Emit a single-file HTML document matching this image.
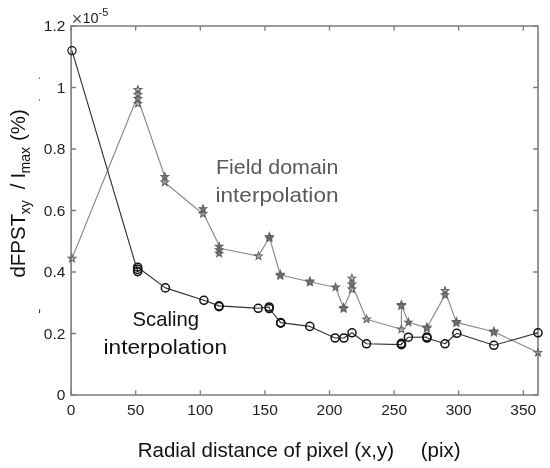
<!DOCTYPE html><html><head><meta charset="utf-8"><style>html,body{margin:0;padding:0;background:#fff;}svg{display:block;}text{font-family:"Liberation Sans",Arial,sans-serif;}</style></head><body>
<svg width="550" height="468" viewBox="0 0 550 468">
<rect width="550" height="468" fill="#fff"/>
<path d="M71.1,26.0H538.0V395.0H71.1Z" fill="none" stroke="#7c7c7c" stroke-width="1.6"/>
<path d="M71.10,395.0v-4.8M71.10,26.0v4.8M135.70,395.0v-4.8M135.70,26.0v4.8M200.30,395.0v-4.8M200.30,26.0v4.8M264.90,395.0v-4.8M264.90,26.0v4.8M329.50,395.0v-4.8M329.50,26.0v4.8M394.10,395.0v-4.8M394.10,26.0v4.8M458.70,395.0v-4.8M458.70,26.0v4.8M523.30,395.0v-4.8M523.30,26.0v4.8M71.1,395.00h4.8M538.0,395.00h-4.8M71.1,333.50h4.8M538.0,333.50h-4.8M71.1,272.00h4.8M538.0,272.00h-4.8M71.1,210.50h4.8M538.0,210.50h-4.8M71.1,149.00h4.8M538.0,149.00h-4.8M71.1,87.50h4.8M538.0,87.50h-4.8M71.1,26.00h4.8M538.0,26.00h-4.8" fill="none" stroke="#7c7c7c" stroke-width="1.3"/>
<g font-size="15.5" fill="#1e1e1e">
<text x="71.10" y="415.2" text-anchor="middle">0</text>
<text x="135.70" y="415.2" text-anchor="middle">50</text>
<text x="200.30" y="415.2" text-anchor="middle">100</text>
<text x="264.90" y="415.2" text-anchor="middle">150</text>
<text x="329.50" y="415.2" text-anchor="middle">200</text>
<text x="394.10" y="415.2" text-anchor="middle">250</text>
<text x="458.70" y="415.2" text-anchor="middle">300</text>
<text x="523.30" y="415.2" text-anchor="middle">350</text>
<text x="65.4" y="400.30" text-anchor="end">0</text>
<text x="65.4" y="338.80" text-anchor="end">0.2</text>
<text x="65.4" y="277.30" text-anchor="end">0.4</text>
<text x="65.4" y="215.80" text-anchor="end">0.6</text>
<text x="65.4" y="154.30" text-anchor="end">0.8</text>
<text x="65.4" y="92.80" text-anchor="end">1</text>
<text x="65.4" y="31.30" text-anchor="end">1.2</text>
</g>
<text x="71.8" y="25.3" font-size="18" fill="#4a4a4a">×</text>
<text x="82.4" y="22.5" font-size="14.5" fill="#1e1e1e">10<tspan font-size="11" dy="-6.2">-5</tspan></text>
<polyline fill="none" stroke="#8a8a8a" stroke-width="1.15" stroke-linejoin="round" points="72,258.5 137.9,95.5 137.9,89.7 137.9,104 137.9,98.5 164.8,176.5 164.8,182.5 203,214 203,209 203,212.6 219.2,245.5 219.2,254 219.2,248.2 258.5,256.1 269.4,237.2 280.3,275 309.9,281.8 335.6,287.5 343.6,308.2 351.9,289.3 351.9,278.4 351.9,284.2 366.5,319.2 401.4,329.3 401.4,305.3 408.4,322.4 426.9,327.8 445,295.1 445,290.7 456.4,322.4 493.9,331.7 538,352.6"/>
<g stroke="#626262" stroke-width="1.2" stroke-linejoin="miter">
<path d="M72.00,254.65 L72.95,257.19 L75.66,257.31 L73.54,259.00 L74.26,261.61 L72.00,260.12 L69.74,261.61 L70.46,259.00 L68.34,257.31 L71.05,257.19Z" fill="none"/>
<path d="M137.90,85.85 L138.85,88.39 L141.56,88.51 L139.44,90.20 L140.16,92.81 L137.90,91.32 L135.64,92.81 L136.36,90.20 L134.24,88.51 L136.95,88.39Z" fill="none"/>
<path d="M137.90,90.75 L138.85,93.29 L141.56,93.41 L139.44,95.10 L140.16,97.71 L137.90,96.22 L135.64,97.71 L136.36,95.10 L134.24,93.41 L136.95,93.29Z" fill="none"/>
<path d="M137.90,94.95 L138.85,97.49 L141.56,97.61 L139.44,99.30 L140.16,101.91 L137.90,100.42 L135.64,101.91 L136.36,99.30 L134.24,97.61 L136.95,97.49Z" fill="none"/>
<path d="M137.90,99.75 L138.85,102.29 L141.56,102.41 L139.44,104.10 L140.16,106.71 L137.90,105.22 L135.64,106.71 L136.36,104.10 L134.24,102.41 L136.95,102.29Z" fill="none"/>
<path d="M164.80,172.85 L165.75,175.39 L168.46,175.51 L166.34,177.20 L167.06,179.81 L164.80,178.32 L162.54,179.81 L163.26,177.20 L161.14,175.51 L163.85,175.39Z" fill="#7e7e7e"/>
<path d="M164.80,178.35 L165.75,180.89 L168.46,181.01 L166.34,182.70 L167.06,185.31 L164.80,183.82 L162.54,185.31 L163.26,182.70 L161.14,181.01 L163.85,180.89Z" fill="none"/>
<path d="M203.00,205.05 L203.95,207.59 L206.66,207.71 L204.54,209.40 L205.26,212.01 L203.00,210.52 L200.74,212.01 L201.46,209.40 L199.34,207.71 L202.05,207.59Z" fill="#7e7e7e"/>
<path d="M203.00,209.95 L203.95,212.49 L206.66,212.61 L204.54,214.30 L205.26,216.91 L203.00,215.42 L200.74,216.91 L201.46,214.30 L199.34,212.61 L202.05,212.49Z" fill="none"/>
<path d="M219.20,242.65 L220.15,245.19 L222.86,245.31 L220.74,247.00 L221.46,249.61 L219.20,248.12 L216.94,249.61 L217.66,247.00 L215.54,245.31 L218.25,245.19Z" fill="#7e7e7e"/>
<path d="M219.20,246.15 L220.15,248.69 L222.86,248.81 L220.74,250.50 L221.46,253.11 L219.20,251.62 L216.94,253.11 L217.66,250.50 L215.54,248.81 L218.25,248.69Z" fill="#7e7e7e"/>
<path d="M219.20,249.65 L220.15,252.19 L222.86,252.31 L220.74,254.00 L221.46,256.61 L219.20,255.12 L216.94,256.61 L217.66,254.00 L215.54,252.31 L218.25,252.19Z" fill="#7e7e7e"/>
<path d="M258.50,252.25 L259.45,254.79 L262.16,254.91 L260.04,256.60 L260.76,259.21 L258.50,257.72 L256.24,259.21 L256.96,256.60 L254.84,254.91 L257.55,254.79Z" fill="none"/>
<path d="M269.40,232.75 L270.35,235.29 L273.06,235.41 L270.94,237.10 L271.66,239.71 L269.40,238.22 L267.14,239.71 L267.86,237.10 L265.74,235.41 L268.45,235.29Z" fill="#7e7e7e"/>
<path d="M269.40,234.35 L270.35,236.89 L273.06,237.01 L270.94,238.70 L271.66,241.31 L269.40,239.82 L267.14,241.31 L267.86,238.70 L265.74,237.01 L268.45,236.89Z" fill="none"/>
<path d="M280.30,270.65 L281.25,273.19 L283.96,273.31 L281.84,275.00 L282.56,277.61 L280.30,276.12 L278.04,277.61 L278.76,275.00 L276.64,273.31 L279.35,273.19Z" fill="#7e7e7e"/>
<path d="M280.30,271.95 L281.25,274.49 L283.96,274.61 L281.84,276.30 L282.56,278.91 L280.30,277.42 L278.04,278.91 L278.76,276.30 L276.64,274.61 L279.35,274.49Z" fill="none"/>
<path d="M309.90,277.45 L310.85,279.99 L313.56,280.11 L311.44,281.80 L312.16,284.41 L309.90,282.92 L307.64,284.41 L308.36,281.80 L306.24,280.11 L308.95,279.99Z" fill="#7e7e7e"/>
<path d="M309.90,278.45 L310.85,280.99 L313.56,281.11 L311.44,282.80 L312.16,285.41 L309.90,283.92 L307.64,285.41 L308.36,282.80 L306.24,281.11 L308.95,280.99Z" fill="#7e7e7e"/>
<path d="M335.60,283.35 L336.55,285.89 L339.26,286.01 L337.14,287.70 L337.86,290.31 L335.60,288.82 L333.34,290.31 L334.06,287.70 L331.94,286.01 L334.65,285.89Z" fill="#7e7e7e"/>
<path d="M343.60,303.75 L344.55,306.29 L347.26,306.41 L345.14,308.10 L345.86,310.71 L343.60,309.22 L341.34,310.71 L342.06,308.10 L339.94,306.41 L342.65,306.29Z" fill="#7e7e7e"/>
<path d="M343.60,304.95 L344.55,307.49 L347.26,307.61 L345.14,309.30 L345.86,311.91 L343.60,310.42 L341.34,311.91 L342.06,309.30 L339.94,307.61 L342.65,307.49Z" fill="#7e7e7e"/>
<path d="M351.90,274.55 L352.85,277.09 L355.56,277.21 L353.44,278.90 L354.16,281.51 L351.90,280.02 L349.64,281.51 L350.36,278.90 L348.24,277.21 L350.95,277.09Z" fill="none"/>
<path d="M351.90,280.35 L352.85,282.89 L355.56,283.01 L353.44,284.70 L354.16,287.31 L351.90,285.82 L349.64,287.31 L350.36,284.70 L348.24,283.01 L350.95,282.89Z" fill="#7e7e7e"/>
<path d="M351.90,285.45 L352.85,287.99 L355.56,288.11 L353.44,289.80 L354.16,292.41 L351.90,290.92 L349.64,292.41 L350.36,289.80 L348.24,288.11 L350.95,287.99Z" fill="none"/>
<path d="M366.50,315.35 L367.45,317.89 L370.16,318.01 L368.04,319.70 L368.76,322.31 L366.50,320.82 L364.24,322.31 L364.96,319.70 L362.84,318.01 L365.55,317.89Z" fill="none"/>
<path d="M401.40,325.45 L402.35,327.99 L405.06,328.11 L402.94,329.80 L403.66,332.41 L401.40,330.92 L399.14,332.41 L399.86,329.80 L397.74,328.11 L400.45,327.99Z" fill="none"/>
<path d="M401.40,300.95 L402.35,303.49 L405.06,303.61 L402.94,305.30 L403.66,307.91 L401.40,306.42 L399.14,307.91 L399.86,305.30 L397.74,303.61 L400.45,303.49Z" fill="#7e7e7e"/>
<path d="M401.40,301.95 L402.35,304.49 L405.06,304.61 L402.94,306.30 L403.66,308.91 L401.40,307.42 L399.14,308.91 L399.86,306.30 L397.74,304.61 L400.45,304.49Z" fill="#7e7e7e"/>
<path d="M408.40,318.55 L409.35,321.09 L412.06,321.21 L409.94,322.90 L410.66,325.51 L408.40,324.02 L406.14,325.51 L406.86,322.90 L404.74,321.21 L407.45,321.09Z" fill="#7e7e7e"/>
<path d="M426.90,323.35 L427.85,325.89 L430.56,326.01 L428.44,327.70 L429.16,330.31 L426.90,328.82 L424.64,330.31 L425.36,327.70 L423.24,326.01 L425.95,325.89Z" fill="#7e7e7e"/>
<path d="M426.90,324.55 L427.85,327.09 L430.56,327.21 L428.44,328.90 L429.16,331.51 L426.90,330.02 L424.64,331.51 L425.36,328.90 L423.24,327.21 L425.95,327.09Z" fill="#7e7e7e"/>
<path d="M445.00,286.85 L445.95,289.39 L448.66,289.51 L446.54,291.20 L447.26,293.81 L445.00,292.32 L442.74,293.81 L443.46,291.20 L441.34,289.51 L444.05,289.39Z" fill="none"/>
<path d="M445.00,291.25 L445.95,293.79 L448.66,293.91 L446.54,295.60 L447.26,298.21 L445.00,296.72 L442.74,298.21 L443.46,295.60 L441.34,293.91 L444.05,293.79Z" fill="#7e7e7e"/>
<path d="M456.40,317.95 L457.35,320.49 L460.06,320.61 L457.94,322.30 L458.66,324.91 L456.40,323.42 L454.14,324.91 L454.86,322.30 L452.74,320.61 L455.45,320.49Z" fill="#7e7e7e"/>
<path d="M456.40,319.15 L457.35,321.69 L460.06,321.81 L457.94,323.50 L458.66,326.11 L456.40,324.62 L454.14,326.11 L454.86,323.50 L452.74,321.81 L455.45,321.69Z" fill="none"/>
<path d="M493.90,327.35 L494.85,329.89 L497.56,330.01 L495.44,331.70 L496.16,334.31 L493.90,332.82 L491.64,334.31 L492.36,331.70 L490.24,330.01 L492.95,329.89Z" fill="#7e7e7e"/>
<path d="M493.90,328.55 L494.85,331.09 L497.56,331.21 L495.44,332.90 L496.16,335.51 L493.90,334.02 L491.64,335.51 L492.36,332.90 L490.24,331.21 L492.95,331.09Z" fill="#7e7e7e"/>
<path d="M538.00,348.75 L538.95,351.29 L541.66,351.41 L539.54,353.10 L540.26,355.71 L538.00,354.22 L535.74,355.71 L536.46,353.10 L534.34,351.41 L537.05,351.29Z" fill="none"/>
</g>
<polyline fill="none" stroke="#333" stroke-width="1.15" stroke-linejoin="round" points="72,50.6 137.7,271.6 137.7,269.4 137.7,267.2 165.4,287.9 203.9,300.3 219,305.9 258.2,308.3 269.2,307.0 269.2,308.5 280.7,322.6 309.8,326.4 335.1,338 343.9,338 352,332.8 366.5,343.8 401.4,344.6 401.4,343.4 401.4,344.2 408.4,337.2 426.9,337.0 426.9,338.0 445,343.8 456.8,333.3 493.9,345.3 538,332.8"/>
<g fill="none" stroke="#111" stroke-width="1.5">
<circle cx="72" cy="50.6" r="4.05" stroke-width="1.2"/>
<circle cx="137.7" cy="271.6" r="4.05"/>
<circle cx="137.7" cy="269.4" r="4.05"/>
<circle cx="137.7" cy="267.2" r="4.05"/>
<circle cx="165.4" cy="287.9" r="4.05"/>
<circle cx="203.9" cy="300.3" r="4.05"/>
<circle cx="219" cy="305.9" r="4.05"/>
<circle cx="258.2" cy="308.3" r="4.05"/>
<circle cx="269.2" cy="307.0" r="4.05"/>
<circle cx="269.2" cy="308.5" r="4.05"/>
<circle cx="280.7" cy="322.6" r="4.05"/>
<circle cx="309.8" cy="326.4" r="4.05"/>
<circle cx="335.1" cy="338" r="4.05"/>
<circle cx="343.9" cy="338" r="4.05"/>
<circle cx="352" cy="332.8" r="4.05"/>
<circle cx="366.5" cy="343.8" r="4.05"/>
<circle cx="401.4" cy="344.6" r="4.05"/>
<circle cx="401.4" cy="343.4" r="4.05"/>
<circle cx="401.4" cy="344.2" r="4.05"/>
<circle cx="408.4" cy="337.2" r="4.05"/>
<circle cx="426.9" cy="337.0" r="4.05"/>
<circle cx="426.9" cy="338.0" r="4.05"/>
<circle cx="445" cy="343.8" r="4.05"/>
<circle cx="456.8" cy="333.3" r="4.05"/>
<circle cx="493.9" cy="345.3" r="4.05"/>
<circle cx="538" cy="332.8" r="4.05"/>
<circle cx="219" cy="306.6" r="4.05"/>
<circle cx="280.7" cy="323.2" r="4.05"/>
</g>
<text x="132.5" y="326.2" font-size="21" fill="#111" textLength="66.5" lengthAdjust="spacingAndGlyphs">Scaling</text>
<text x="103.5" y="353.9" font-size="21" fill="#111" textLength="123.5" lengthAdjust="spacingAndGlyphs">interpolation</text>
<text x="216.0" y="173.9" font-size="21" fill="#5a5a5a" textLength="122.5" lengthAdjust="spacingAndGlyphs">Field domain</text>
<text x="215.5" y="201.6" font-size="21" fill="#5a5a5a" textLength="123.0" lengthAdjust="spacingAndGlyphs">interpolation</text>
<text x="137.7" y="457.2" font-size="20.5" fill="#111">Radial distance of pixel (x,y)</text>
<text x="420.7" y="457.2" font-size="20.5" fill="#111">(pix)</text>
<g transform="translate(25.1,0) rotate(-90)" fill="#111" font-size="20.5">
<text x="-277.6" y="0">dFPST</text>
<text x="-214.2" y="4.7" font-size="14">xy</text>
<text x="-189.3" y="0">/</text>
<text x="-178.4" y="0">I</text>
<text x="-173.4" y="4.7" font-size="14">max</text>
<text x="-141.1" y="0">(%)</text>
</g>
<rect x="38.8" y="77.6" width="1.2" height="1.2" fill="#444"/><rect x="38.8" y="99.5" width="1.2" height="1.2" fill="#444"/><rect x="39" y="309.5" width="1.1" height="3.6" fill="#333"/>
</svg></body></html>
